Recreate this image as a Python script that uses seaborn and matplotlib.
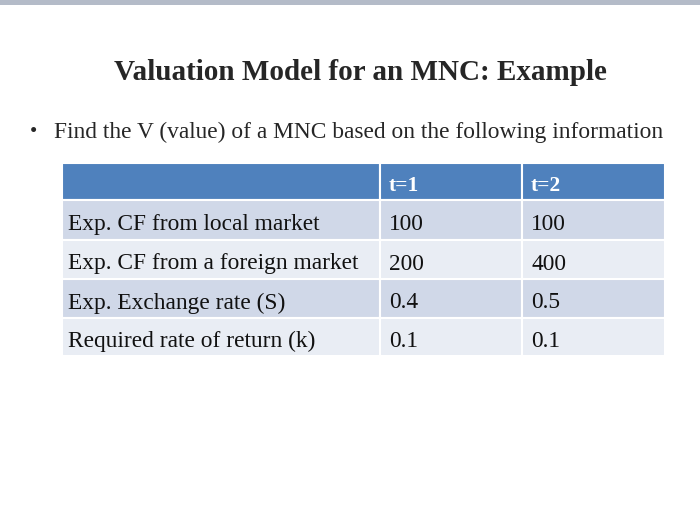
import matplotlib
matplotlib.use("Agg")
import matplotlib.pyplot as plt
import seaborn as sns
from matplotlib.patches import Rectangle

sns.set_theme(style="white")

title = "Valuation Model for an MNC: Example"
bullet = "Find the V (value) of a MNC based on the following information"
header = ["", "t=1", "t=2"]
row_labels = ["Exp. CF from local market", "Exp. CF from a foreign market",
              "Exp. Exchange rate (S)", "Required rate of return (k)"]
t1 = ["100", "200", "0.4", "0.1"]
t2 = ["100", "400", "0.5", "0.1"]

fig = plt.figure(figsize=(7, 5.13), dpi=100)
ax = fig.add_axes([0, 0, 1, 1])
ax.set_xlim(0, 700); ax.set_ylim(513, 0); ax.axis("off")

ax.add_patch(Rectangle((0, 0), 700, 5, color="#B4BBC8", lw=0))
serif = "Liberation Serif"
ax.text(360, 70, title, ha="center", va="center_baseline", fontsize=21, fontweight="bold", family=serif)
ax.text(30, 130, "•", ha="left", va="center_baseline", fontsize=15, family=serif)
ax.text(54, 130, bullet, ha="left", va="center_baseline", fontsize=16.8, family=serif)

xs = [62, 380, 522, 665]
ys = [163, 200, 240, 279, 318, 356]
fills = ["#4F81BD", "#D0D8E8", "#E9EDF4", "#D0D8E8", "#E9EDF4"]
rows = [header] + [[a, b, c] for a, b, c in zip(row_labels, t1, t2)]
for r in range(5):
    for c in range(3):
        ax.add_patch(Rectangle((xs[c], ys[r]), xs[c+1]-xs[c], ys[r+1]-ys[r],
                               facecolor=fills[r], edgecolor="white", lw=1.5))
        txt = rows[r][c]
        if txt:
            ax.text(xs[c] + 6 if c == 0 else xs[c] + 9, (ys[r] + ys[r+1]) / 2 + 2, txt,
                    ha="left", va="center_baseline", fontsize=16.8 if r else 15.5, family=serif,
                    color="white" if r == 0 else "#111111",
                    fontweight="bold" if r == 0 else "normal")

fig.savefig("out.png", dpi=100, facecolor="white")
